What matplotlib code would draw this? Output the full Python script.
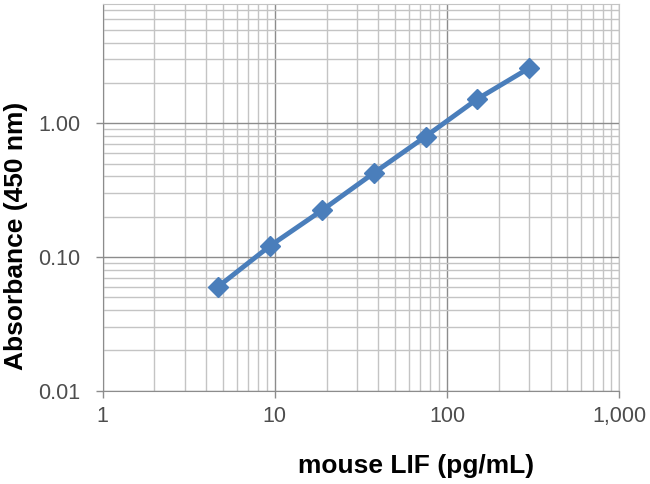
import numpy as np
import matplotlib.pyplot as plt
from matplotlib.ticker import FixedLocator, FixedFormatter, LogLocator, NullFormatter

plt.rcParams['font.family'] = ['Liberation Sans', 'DejaVu Sans']

# data
conc = [4.69, 9.38, 18.75, 37.5, 75, 150, 300]
absorb = [0.060, 0.121, 0.223, 0.424, 0.796, 1.52, 2.59]
x_ticks = [1, 10, 100, 1000]
x_labels = ['1', '10', '100', '1,000']
y_ticks = [0.01, 0.1, 1]
y_labels = ['0.01', '0.10', '1.00']

fig = plt.figure(figsize=(6.5, 4.84), dpi=100)
ax = fig.add_axes([0.1577, 0.1928, 0.7951, 0.7989])

ax.set_xscale('log')
ax.set_yscale('log')
ax.set_xlim(1, 1000)
ax.set_ylim(0.01, 7.8)

ax.xaxis.set_major_locator(FixedLocator(x_ticks))
ax.xaxis.set_major_formatter(FixedFormatter(x_labels))
ax.yaxis.set_major_locator(FixedLocator(y_ticks))
ax.yaxis.set_major_formatter(FixedFormatter(y_labels))
ax.xaxis.set_minor_locator(LogLocator(base=10, subs=np.arange(2, 10)))
ax.yaxis.set_minor_locator(LogLocator(base=10, subs=np.arange(2, 10)))
ax.xaxis.set_minor_formatter(NullFormatter())
ax.yaxis.set_minor_formatter(NullFormatter())

ax.grid(True, which='major', color='#8c8c8c', linewidth=1.0)
ax.grid(True, which='minor', color='#c4c4c4', linewidth=1.0)
ax.set_axisbelow(True)

ax.tick_params(which='major', length=5, width=1, color='#8c8c8c',
               labelsize=15.5, labelcolor='#4d4d4d')
ax.tick_params(axis='x', which='major', pad=6)
ax.tick_params(axis='y', which='major', pad=11)
ax.tick_params(which='minor', length=0)

for s in ['left', 'bottom']:
    ax.spines[s].set_color('#8c8c8c')
for s in ['top', 'right']:
    ax.spines[s].set_color('#c4c4c4')

ax.plot(conc, absorb, color='#4a7ebb', linewidth=3.5, marker='D',
        markersize=10, zorder=3)

# axis titles placed like the reference (x title sits right of centre)
fig.text(0.64, 0.037, 'mouse LIF (pg/mL)', fontsize=19, fontweight='bold',
         ha='center', va='center')
fig.text(0.024, 0.512, 'Absorbance (450 nm)', fontsize=19, fontweight='bold',
         ha='center', va='center', rotation=90)

fig.savefig('out.png', dpi=100)
